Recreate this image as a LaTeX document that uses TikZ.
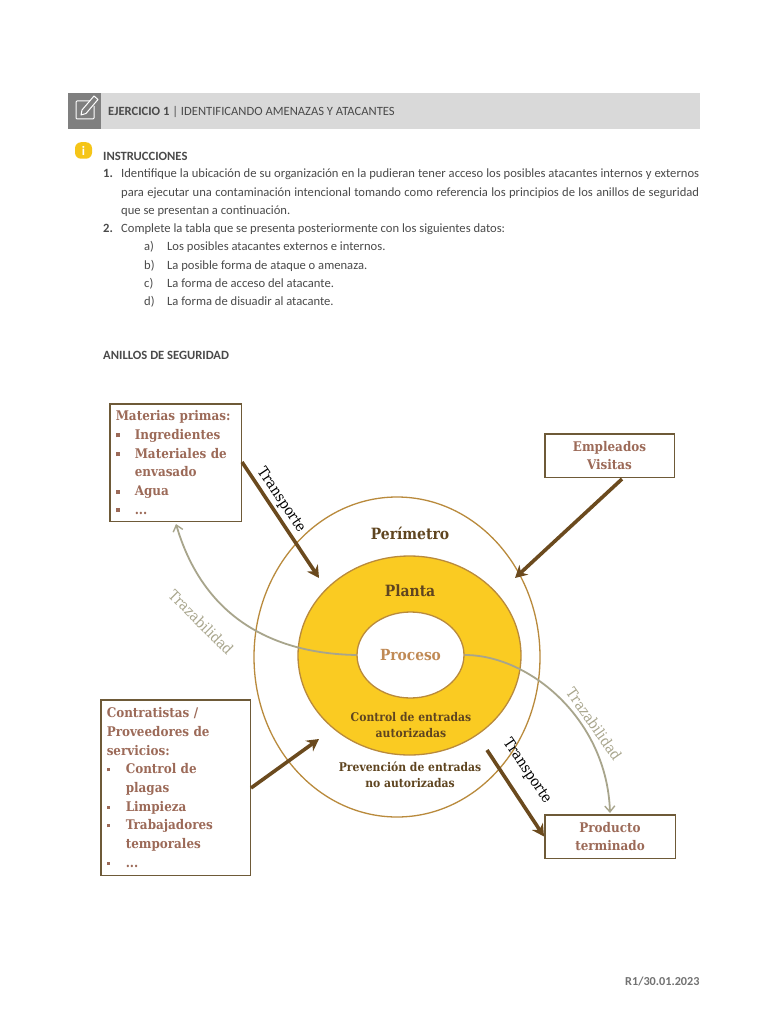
\documentclass[tikz,border=0pt]{standalone}
\usepackage{fontspec}
\setmainfont{Carlito}
\newfontfamily\dserif{DejaVu Serif Condensed}
\newfontfamily\rserif{DejaVu Serif Condensed}
\usetikzlibrary{arrows.meta,shapes.geometric}
\definecolor{bodytxt}{HTML}{4A4A4A}
\definecolor{band}{HTML}{D9D9D9}
\definecolor{iconbg}{HTML}{7F7F7F}
\definecolor{infoy}{HTML}{F5C518}
\definecolor{boxtxt}{HTML}{9C6A58}
\definecolor{boxln}{HTML}{6E5A38}
\definecolor{flow}{HTML}{6B4A1E}
\definecolor{trace}{HTML}{A8A58C}
\definecolor{ring}{HTML}{B98A3C}
\definecolor{gold}{HTML}{FACB22}
\definecolor{darktxt}{HTML}{5F4520}
\definecolor{proc}{HTML}{C08A55}
\newcommand{\bul}[1]{\makebox[19pt][l]{#1}}
\newcommand{\sq}{\raisebox{2pt}{\rule{4pt}{4pt}}}
\newcommand{\dt}{\raisebox{2.5pt}{\rule{3pt}{3pt}}}
\tikzset{
  line/.style={anchor=base west,inner sep=0pt,text=bodytxt,font=\fontsize{12.6pt}{14pt}\selectfont},
  hd/.style={line,font=\fontsize{12.6pt}{14pt}\selectfont\bfseries},
  srcbox/.style={draw=boxln,line width=1.5pt,fill=white,anchor=north west,inner xsep=6pt,inner ysep=0pt,
    text=boxtxt,font=\fontsize{13.3pt}{18.7pt}\selectfont\dserif\bfseries,align=left},
  ctrbox/.style={srcbox,align=center},
  flowarrow/.style={draw=flow,line width=3.6pt,-{Stealth[length=12pt,width=13pt]}},
  tracearrow/.style={draw=trace,line width=1.8pt,-{Straight Barb[length=6pt,width=10pt,line width=1.4pt]}},
  slabel/.style={inner sep=0pt,font=\fontsize{14.8pt}{16pt}\selectfont\rserif},
  zlabel/.style={inner sep=0pt,align=center,text=darktxt,font=\fontsize{12pt}{16.5pt}\selectfont\dserif\bfseries},
  biglabel/.style={zlabel,font=\fontsize{15.5pt}{16pt}\selectfont\dserif\bfseries},
}
\begin{document}
\begin{tikzpicture}[x=1pt,y=-1pt]
\useasboundingbox[fill=white] (0,0) rectangle (768,1024);
% header band
\fill[band] (68,93) rectangle (700,129);
\fill[iconbg] (68,93) rectangle (101,129);
\draw[white,line width=1pt,rounded corners=1pt] (90,101) -- (76,101) -- (76,119) -- (94,119) -- (94,106);
\draw[white,line width=1pt,line join=round] (81,115) -- (82,110) -- (94,96) -- (98,99.5) -- (86,113.5) -- cycle;
\node[line] (title) at (108,115.7) {\textbf{EJERCICIO 1} | IDENTIFICANDO AMENAZAS Y ATACANTES};
% info icon
\node[fill=infoy,rounded corners=6pt,minimum width=17pt,minimum height=16.5pt,inner sep=0pt,text=white,font=\fontsize{13pt}{13pt}\selectfont\bfseries] (info) at (83.5,150.5) {i};
% text
\node[hd] (instr) at (103,160.7) {INSTRUCCIONES};
\node[hd] (n1) at (103,177.7) {1.};
\node[line] (l1) at (121,177.7) {\makebox[578pt][s]{Identifique la ubicación de su organización en la pudieran tener acceso los posibles atacantes internos y externos}};
\node[line] (l2) at (121,196.7) {\makebox[578pt][s]{para ejecutar una contaminación intencional tomando como referencia los principios de los anillos de seguridad}};
\node[line] (l3) at (121,214.7) {que se presentan a continuación.};
\node[hd] (n2) at (103,232.7) {2.};
\node[line] (l4) at (121,232.7) {Complete la tabla que se presenta posteriormente con los siguientes datos:};
\node[line] (a) at (144,250) {a)};
\node[line] (at) at (167,250) {Los posibles atacantes externos e internos.};
\node[line] (b) at (144,269) {b)};
\node[line] (bt) at (167,269) {La posible forma de ataque o amenaza.};
\node[line] (c) at (144,287) {c)};
\node[line] (ct) at (167,287) {La forma de acceso del atacante.};
\node[line] (d) at (144,305) {d)};
\node[line] (dt) at (167,305) {La forma de disuadir al atacante.};
\node[hd] (anillos) at (103,359) {ANILLOS DE SEGURIDAD};
\node[hd,text=iconbg!90!black,font=\fontsize{12.2pt}{14pt}\selectfont\bfseries] (foot) at (625,985) {R1/30.01.2023};
% rings
\draw[ring,line width=1.3pt,fill=white] (397,657) ellipse [x radius=143,y radius=160];
\draw[ring,line width=1.3pt,fill=gold] (409.5,655.5) ellipse [x radius=111.5,y radius=99.5];
\node[draw=ring,line width=1.3pt,fill=white,ellipse,minimum width=107pt,minimum height=86pt,inner sep=0pt,text=proc,
  font=\fontsize{15.3pt}{16pt}\selectfont\dserif\bfseries] (proceso) at (410.5,655) {Proceso};
\node[biglabel] (perim) at (410,533) {Perímetro};
\node[biglabel] (planta) at (410,591) {Planta};
\node[zlabel] (control) at (411,725) {Control de entradas\\autorizadas};
\node[zlabel] (prev) at (410,775) {Prevención de entradas\\no autorizadas};
% boxes
\node[srcbox,minimum width=131.5pt,minimum height=117.5pt,text width=119.5pt] (mat) at (109,403)
 {Materias primas:\\ \bul{\sq}Ingredientes\\ \bul{\sq}Materiales de\\ \bul{}envasado\\ \bul{\sq}Agua\\ \bul{\sq}...};
\node[ctrbox,minimum width=129.5pt,minimum height=43.5pt,text width=117.5pt] (emp) at (544,433) {Empleados\\Visitas};
\node[srcbox,minimum width=149.5pt,minimum height=175.5pt,text width=137.5pt] (con) at (100,699)
 {Contratistas /\\Proveedores de\\servicios:\\ \bul{\dt}Control de\\ \bul{}plagas\\ \bul{\dt}Limpieza\\ \bul{\dt}Trabajadores\\ \bul{}temporales\\ \bul{\dt}...};
\node[ctrbox,minimum width=130.5pt,minimum height=43.5pt,text width=118.5pt] (prod) at (544,814) {Producto\\terminado};
% free ends
\coordinate (t1) at (319,578);
\coordinate (t2) at (515,578);
\coordinate (t3) at (319,739);
\coordinate (t4) at (487,750);
% flows
\draw[flowarrow] (mat.east |- 0,462) -- (t1);
\draw[flowarrow] (622,479) -- (t2);
\draw[flowarrow] (con.east |- 0,788) -- (t3);
\draw[flowarrow] (t4) -- (prod.west);
% traces
\draw[tracearrow] (proceso.west) .. controls (305,654) and (210,640) .. (176,524);
\draw[tracearrow] (proceso.east) .. controls (530,655) and (607,720) .. (610,813);
% rotated labels
\node[slabel,rotate=-56] (tr1) at (281,500) {Transporte};
\node[slabel,rotate=-56] (tr2) at (527,771) {Transporte};
\node[slabel,rotate=-45,text=trace] (za) at (201,622) {Trazabilidad};
\node[slabel,rotate=-55,text=trace] (zb) at (594,724) {Trazabilidad};
\end{tikzpicture}
\end{document}
